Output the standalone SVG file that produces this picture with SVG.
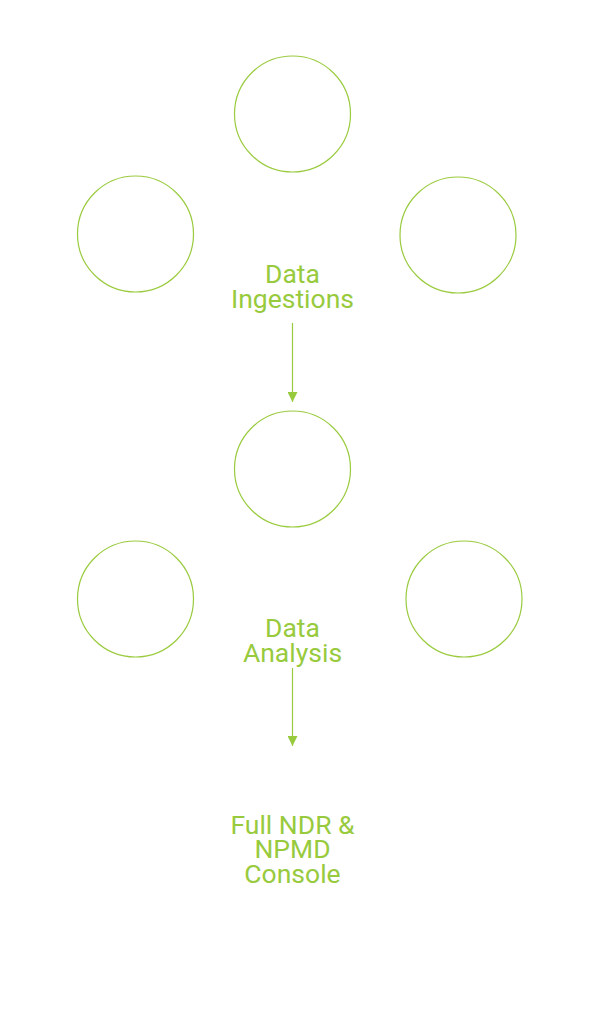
<svg xmlns="http://www.w3.org/2000/svg" width="599" height="1024" viewBox="0 0 599 1024">
<style>
.c{fill:none;stroke:#9acb3f;stroke-width:1.2}
.t{font-family:Roboto,"Liberation Sans",sans-serif;font-size:26.5px;fill:#98ca3d;text-anchor:middle}
.a{stroke:#98ca3d;stroke-width:1.2;fill:none}
</style>
<defs>
<marker id="ah" viewBox="0 0 10 10" refX="10" refY="5" markerWidth="10" markerHeight="10" markerUnits="userSpaceOnUse" orient="auto"><path d="M0,0 L10,5 L0,10 z" fill="#98ca3d"/></marker>
</defs>
<rect width="599" height="1024" fill="#fff"/>
<g id="circle1"><circle class="c" cx="292.5" cy="114" r="58"/></g>
<g id="circle2"><circle class="c" cx="135.5" cy="234" r="58"/></g>
<g id="circle3"><circle class="c" cx="458" cy="235" r="58"/></g>
<g id="circle4"><circle class="c" cx="292.5" cy="469" r="58"/></g>
<g id="circle5"><circle class="c" cx="135.5" cy="599" r="58"/></g>
<g id="circle6"><circle class="c" cx="464" cy="599" r="58"/></g>
<g id="ingest"><text class="t" x="292.5" y="283">Data</text><text class="t" x="292.5" y="307.5">Ingestions</text></g>
<g id="analysis"><text class="t" x="292.5" y="637">Data</text><text class="t" x="292.5" y="661.5">Analysis</text></g>
<g id="console"><text class="t" x="292.5" y="833.5">Full NDR &amp;</text><text class="t" x="292.5" y="858">NPMD</text><text class="t" x="292.5" y="882.5">Console</text></g>
<g id="connectors">
<line class="a" x1="292.5" y1="323" x2="292.5" y2="402" marker-end="url(#ah)"/>
<line class="a" x1="292.5" y1="668" x2="292.5" y2="746" marker-end="url(#ah)"/>
</g>
</svg>
